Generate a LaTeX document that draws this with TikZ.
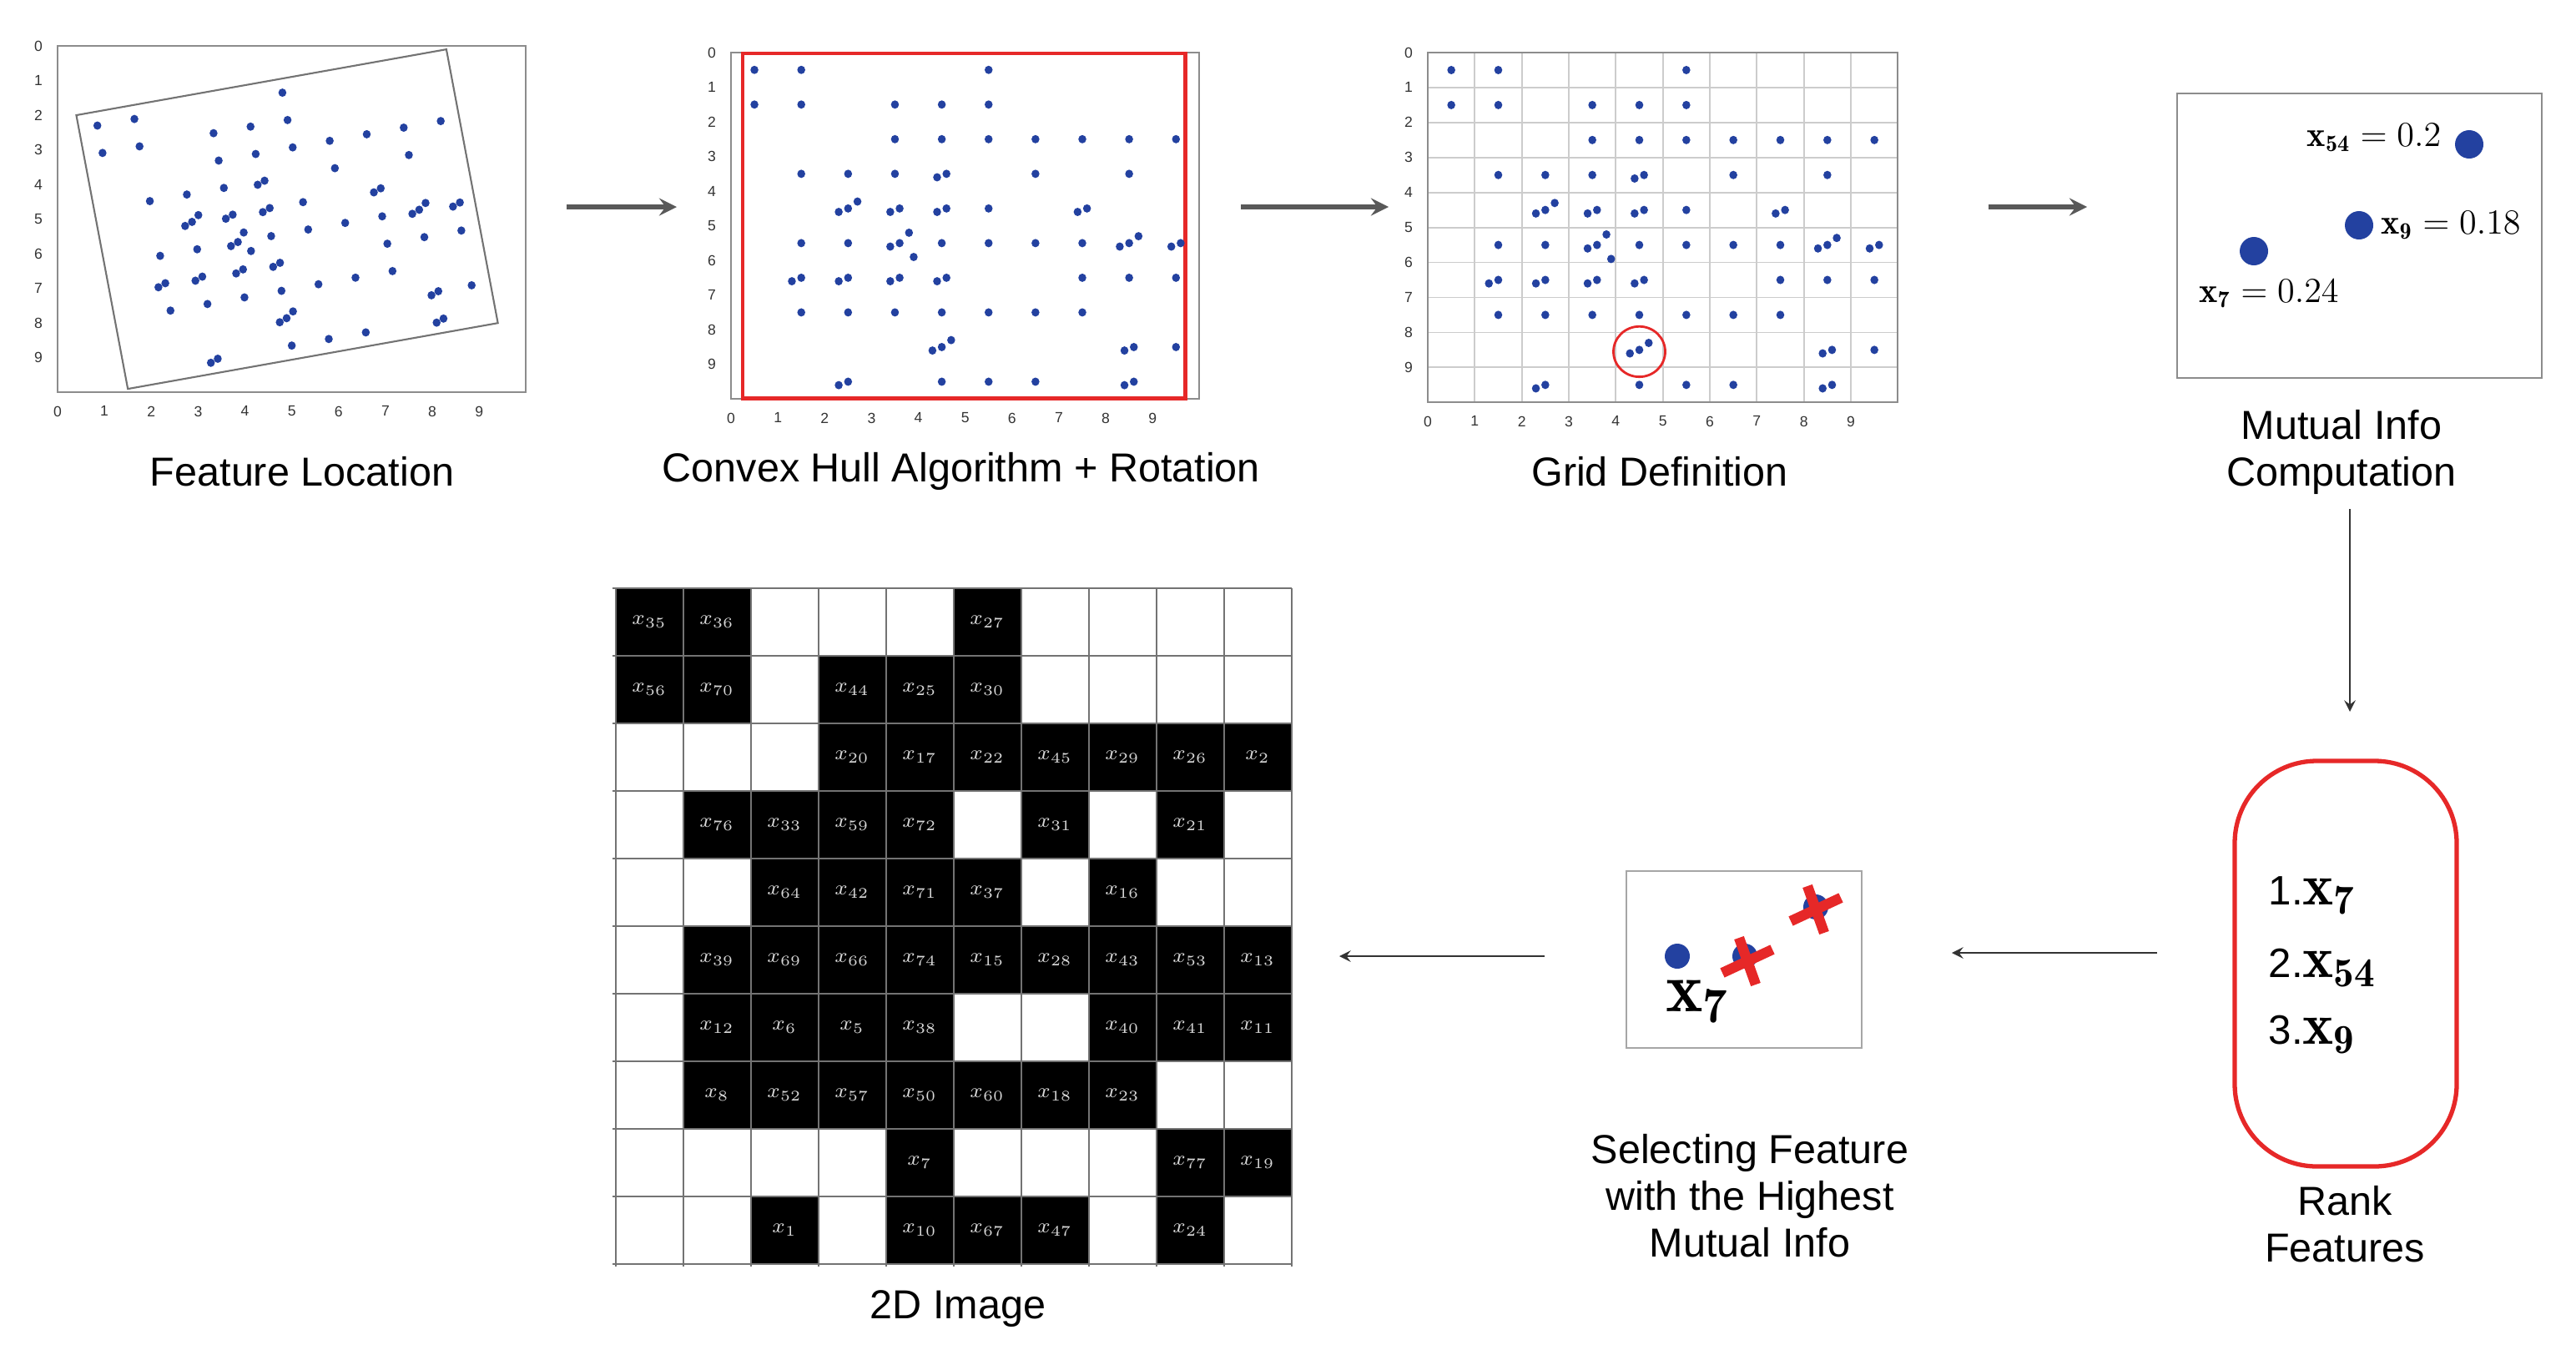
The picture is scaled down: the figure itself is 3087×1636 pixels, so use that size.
\documentclass[tikz,border=0pt]{standalone}
\usepackage{amsmath}
\usepackage{fontspec}
\newfontfamily\capfont{Liberation Sans}
\begin{document}
\begin{tikzpicture}[x=0.01cm,y=-0.01cm,
  dot/.style={fill=dotblue,draw=none},
  captxt/.style={font=\capfont\fontsize{13.8}{16}\selectfont,align=center},
  tick/.style={font=\capfont\fontsize{5}{6}\selectfont,text=black!80},
  topar/.style={draw=black!65,line width=1.6pt,-stealth},
  ar/.style={draw=black!80,line width=0.7pt,-stealth},
  cell/.style={draw=black!55,line width=0.6pt},
  ranktxt/.style={anchor=west,inner sep=0pt,font=\capfont\fontsize{14}{16}\selectfont},
  lab/.style={font=\fontsize{7}{8}\selectfont,text=white!85!black}]
\definecolor{dotblue}{RGB}{35,65,160}
\definecolor{hullred}{RGB}{230,40,40}
\useasboundingbox (0,0) rectangle (3087,1636);
\def\pts{0.5/0.5,1.5/0.5,5.5/0.5,0.5/1.5,1.5/1.5,3.5/1.5,4.5/1.5,5.5/1.5,3.5/2.5,4.5/2.5,5.5/2.5,6.5/2.5,7.5/2.5,8.5/2.5,9.5/2.5,1.5/3.5,2.5/3.5,3.5/3.5,4.4/3.6,4.6/3.5,6.5/3.5,8.5/3.5,2.3/4.6,2.5/4.5,2.7/4.3,3.4/4.6,3.6/4.5,4.4/4.6,4.6/4.5,5.5/4.5,7.4/4.6,7.6/4.5,1.5/5.5,2.5/5.5,3.4/5.6,3.6/5.5,3.8/5.2,3.9/5.9,4.5/5.5,5.5/5.5,6.5/5.5,7.5/5.5,8.3/5.6,8.5/5.5,8.7/5.3,9.4/5.6,9.6/5.5,1.3/6.6,1.5/6.5,2.3/6.6,2.5/6.5,3.4/6.6,3.6/6.5,4.4/6.6,4.6/6.5,7.5/6.5,8.5/6.5,9.5/6.5,1.5/7.5,2.5/7.5,3.5/7.5,4.5/7.5,5.5/7.5,6.5/7.5,7.5/7.5,4.3/8.6,4.5/8.5,4.7/8.3,8.4/8.6,8.6/8.5,9.5/8.5,2.3/9.6,2.5/9.5,4.5/9.5,5.5/9.5,6.5/9.5,8.4/9.6,8.6/9.5}
% ---------- panel 1
\begin{scope}[shift={(69,55)},x=0.561cm,y=-0.415cm]
  \draw[black!45,line width=0.6pt] (0,0) rectangle (10,10);
  \foreach \i in {0,...,9}{\node[tick,anchor=east] (p1y\i) at (-0.1,\i) {\i};
    \node[tick,anchor=north] (p1x\i) at (\i,10.1) {\i};}
  \draw[black!55,line width=0.6pt] (0.4,2) -- (8.3,0.1) -- (9.4,8.0) -- (1.5,9.9) -- cycle;
  \foreach \u/\v in \pts {
    \pgfmathsetmacro\px{0.4+0.79*\u+0.11*\v}
    \pgfmathsetmacro\py{2-0.19*\u+0.79*\v}
    \fill[dot] (\px,\py) ellipse[x radius=0.085,y radius=0.12];}
\end{scope}
\node[captxt] (c1) at (362,565) {Feature Location};
% ---------- panel 2
\begin{scope}[shift={(876,63)},x=0.561cm,y=-0.415cm]
  \draw[black!45,line width=0.6pt] (0,0) rectangle (10,10);
  \foreach \i in {0,...,9}{\node[tick,anchor=east] (p2y\i) at (-0.1,\i) {\i};
    \node[tick,anchor=north] (p2x\i) at (\i,10.1) {\i};}
  \draw[hullred,line width=1.3pt] (0.25,0.02) rectangle (9.7,9.98);
  \foreach \u/\v in \pts {\fill[dot] (\u,\v) ellipse[x radius=0.085,y radius=0.12];}
\end{scope}
\node[captxt] (c2) at (1152,565) {Convex Hull Algorithm + Rotation};
% ---------- panel 3
\begin{scope}[shift={(1711,63)},x=0.563cm,y=-0.419cm]
  \foreach \i in {1,...,9}{\draw[black!20,line width=0.5pt] (\i,0) -- (\i,10); \draw[black!20,line width=0.5pt] (0,\i) -- (10,\i);}
  \draw[black!45,line width=0.6pt] (0,0) rectangle (10,10);
  \foreach \i in {0,...,9}{\node[tick,anchor=east] (p3y\i) at (-0.1,\i) {\i};
    \node[tick,anchor=north] (p3x\i) at (\i,10.1) {\i};}
  \foreach \u/\v in \pts {\fill[dot] (\u,\v) ellipse[x radius=0.085,y radius=0.12];}
  \draw[hullred,line width=0.8pt] (4.5,8.55) circle[x radius=0.55,y radius=0.72];
\end{scope}
\node[captxt] (c3) at (1989,565) {Grid Definition};
% ---------- panel 4
\draw[black!45,line width=0.6pt] (2609,112) rectangle (3046,453);
\fill[dotblue] (2959,173) circle[radius=17];
\fill[dotblue] (2827,270) circle[radius=17];
\fill[dotblue] (2701,301) circle[radius=17];
\node[font=\fontsize{12}{14}\selectfont] (l54) at (2845,165) {$\mathbf{x_{54}}=0.2$};
\node[font=\fontsize{12}{14}\selectfont,anchor=west] (l9) at (2841,270) {$\mathbf{x_{9}}=0.18$};
\node[font=\fontsize{12}{14}\selectfont] (l7) at (2719,352) {$\mathbf{x_{7}}=0.24$};
\node[captxt] (c4) at (2806,542) {Mutual Info\\Computation};
% ---------- rank box
\draw[hullred,line width=1.5pt,rounded corners=28] (2678,912) rectangle (2944,1398);
\node[ranktxt] (r1) at (2718,1073) {1.\fontsize{20}{22}\selectfont$\mathbf{x_{7}}$};
\node[ranktxt] (r2) at (2718,1160) {2.\fontsize{20}{22}\selectfont$\mathbf{x_{54}}$};
\node[ranktxt] (r3) at (2718,1240) {3.\fontsize{20}{22}\selectfont$\mathbf{x_{9}}$};
\node[captxt] (c5) at (2810,1467) {Rank\\Features};
% ---------- panel 5
\draw[black!35,line width=0.6pt] (1949,1044) rectangle (2231,1256);
\fill[dotblue] (2010,1146) circle[radius=15];
\fill[dotblue] (2091,1146) circle[radius=15];
\fill[dotblue] (2176,1087) circle[radius=15];
\foreach \cx/\cy in {2094/1152,2176/1090}{
  \draw[hullred,line width=3.5pt] (\cx-30,\cy+14) -- (\cx+30,\cy-14);
  \draw[hullred,line width=3.5pt] (\cx-10,\cy-28) -- (\cx+10,\cy+28);}
\node[font=\fontsize{24}{26}\selectfont] (s7) at (2034,1201) {$\mathbf{x_{7}}$};
\node[captxt] (c6) at (2097,1433) {Selecting Feature\\with the Highest\\Mutual Info};
% ---------- 2D image
\def\cs{81}
\foreach \r/\c/\t in {0/0/35,0/1/36,0/5/27,1/0/56,1/1/70,1/3/44,1/4/25,1/5/30,2/3/20,2/4/17,2/5/22,2/6/45,2/7/29,2/8/26,2/9/2,3/1/76,3/2/33,3/3/59,3/4/72,3/6/31,3/8/21,4/2/64,4/3/42,4/4/71,4/5/37,4/7/16,5/1/39,5/2/69,5/3/66,5/4/74,5/5/15,5/6/28,5/7/43,5/8/53,5/9/13,6/1/12,6/2/6,6/3/5,6/4/38,6/7/40,6/8/41,6/9/11,7/1/8,7/2/52,7/3/57,7/4/50,7/5/60,7/6/18,7/7/23,8/4/7,8/8/77,8/9/19,9/2/1,9/4/10,9/5/67,9/6/47,9/8/24}{
  \fill[black] (738+\c*\cs,705+\r*\cs) rectangle ++(\cs,\cs);
  \node[lab] at (738+\c*\cs+40,705+\r*\cs+40) {$x_{\t}$};}
\foreach \i in {0,...,10}{
  \draw[cell] (738+\i*\cs,705) -- (738+\i*\cs,1518);
  \draw[cell] (734,705+\i*\cs) -- (1548,705+\i*\cs);}
\node[captxt] (c7) at (1148,1569) {2D Image};
% ---------- arrows
\coordinate (a1s) at (679,248); \coordinate (a1e) at (811,248);
\coordinate (a2s) at (1487,248); \coordinate (a2e) at (1664,248);
\coordinate (a3s) at (2383,248); \coordinate (a3e) at (2501,248);
\draw[topar] (a1s) -- (a1e);
\draw[topar] (a2s) -- (a2e);
\draw[topar] (a3s) -- (a3e);
\coordinate (a4s) at (2816,610); \coordinate (a4e) at (2816,853);
\coordinate (a5s) at (2585,1142); \coordinate (a5e) at (2339,1142);
\coordinate (a6s) at (1851,1146); \coordinate (a6e) at (1605,1146);
\draw[ar] (a4s) -- (a4e);
\draw[ar] (a5s) -- (a5e);
\draw[ar] (a6s) -- (a6e);
\end{tikzpicture}
\end{document}
